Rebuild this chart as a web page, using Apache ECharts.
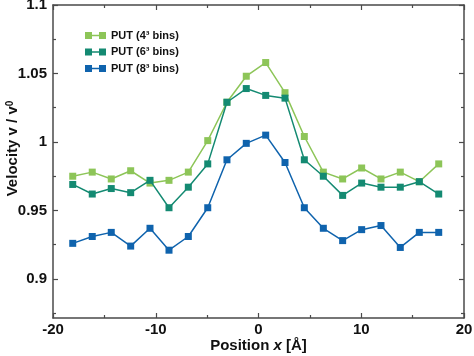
<!DOCTYPE html>
<html><head><meta charset="utf-8">
<script src="https://cdn.jsdelivr.net/npm/echarts@6/dist/echarts.min.js"></script>
<style>html,body{margin:0;padding:0;background:#fff}#c{width:474px;height:356px}</style>
</head><body><div id="c"></div>
<script>
const positions = [-18.08,-16.18,-14.33,-12.44,-10.56,-8.71,-6.83,-4.94,-3.07,-1.19,0.70,2.58,4.46,6.31,8.19,10.04,11.92,13.80,15.65,17.54];
const put4 = [0.975,0.978,0.973,0.979,0.970,0.972,0.978,1.001,1.029,1.048,1.058,1.036,1.004,0.978,0.973,0.981,0.973,0.978,0.971,0.984];
const put6 = [0.969,0.962,0.966,0.963,0.972,0.952,0.967,0.984,1.029,1.039,1.034,1.032,0.987,0.975,0.961,0.970,0.967,0.967,0.971,0.962];
const put8 = [0.926,0.931,0.934,0.924,0.937,0.921,0.931,0.952,0.987,0.999,1.005,0.985,0.952,0.937,0.928,0.936,0.939,0.923,0.934,0.934];
const seriesNames = ['PUT (4³ bins)','PUT (6³ bins)','PUT (8³ bins)'];
const colors = ['#8dc558','#148a72','#0f63ad'];
const yMajor = [0.9,0.95,1,1.05,1.1];
const yMinor = [0.875,0.925,0.975,1.025,1.075];

const axisCol = '#4a4a4a';
const txt = '#111';
const font = 'Liberation Sans, Arial, Helvetica, sans-serif';
function pts(ys){ return positions.map((x,i)=>[x,ys[i]]); }
const legendIcon = 'path://M0,0h7v7h-7z M14,0h7v7h-7z M7,2.7h7v1.6h-7z';

function yAx(pos, ticks, len, labels, extra){
  return Object.assign({
    type:'value', position:pos, min:0.8715, max:1.1,
    axisLine:{show:true, onZero:false, lineStyle:{color:axisCol, width:1.5}},
    axisTick:{show:true, inside:true, length:len, customValues:ticks, lineStyle:{color:axisCol, width:1.2}},
    axisLabel:labels ? {show:true, customValues:ticks, margin:6, color:txt, fontSize:15, fontWeight:'bold', fontFamily:font} : {show:false},
    splitLine:{show:false}
  }, extra||{});
}

const chart = echarts.init(document.getElementById('c'), null, {renderer:'canvas'});
chart.setOption({
  animation:false,
  backgroundColor:'#fff',
  grid:{left:53, right:10, top:5, bottom:38, containLabel:false, outerBoundsMode:'none'},
  legend:{
    orient:'vertical', left:80, top:25, itemGap:5.5, itemWidth:21, itemHeight:7,
    data:seriesNames.map((n,i)=>({name:n, icon:legendIcon, itemStyle:{color:colors[i]}})),
    textStyle:{color:txt, fontSize:11, fontWeight:'bold', fontFamily:font}
  },
  xAxis:[
    {type:'value', position:'bottom', min:-20, max:20, interval:10,
     name:'Position {i|x} [Å]', nameLocation:'middle', nameGap:20, nameMoveOverlap:false,
     nameTextStyle:{color:txt, fontSize:15, fontWeight:'bold', fontFamily:font,
       rich:{i:{fontStyle:'italic', fontWeight:'bold', fontSize:15, fontFamily:font, color:txt}}},
     axisLine:{show:true, onZero:false, lineStyle:{color:axisCol, width:1.5}},
     axisTick:{show:true, inside:true, length:5, lineStyle:{color:axisCol, width:1.2}},
     minorTick:{show:true, splitNumber:2, length:3, lineStyle:{color:axisCol, width:1.2}},
     axisLabel:{margin:4, color:txt, fontSize:15, fontWeight:'bold', fontFamily:font},
     splitLine:{show:false}},
    {type:'value', position:'top', min:-20, max:20, interval:10,
     axisLine:{show:true, onZero:false, lineStyle:{color:axisCol, width:1.5}},
     axisTick:{show:true, inside:true, length:5, lineStyle:{color:axisCol, width:1.2}},
     minorTick:{show:true, splitNumber:2, length:3, lineStyle:{color:axisCol, width:1.2}},
     axisLabel:{show:false}, splitLine:{show:false}}
  ],
  yAxis:[
    yAx('left', yMajor, 5, true, {
      name:'Velocity v / v{s|0}', nameLocation:'middle', nameGap:32, nameMoveOverlap:false,
      nameTextStyle:{color:txt, fontSize:15, fontWeight:'bold', fontFamily:font, padding:[0,0,0,26],
        rich:{s:{fontSize:10, fontWeight:'bold', fontFamily:font, color:txt, verticalAlign:'top', padding:[0,0,6,0]}}}
    }),
    yAx('left', yMinor, 3, false, {axisLine:{show:false, onZero:false}}),
    yAx('right', yMajor, 5, false),
    yAx('right', yMinor, 3, false, {axisLine:{show:false, onZero:false}})
  ],
  series:[put4, put6, put8].map((d,i)=>({
    name:seriesNames[i], type:'line', data:pts(d), xAxisIndex:0, yAxisIndex:0,
    symbol:'rect', symbolSize:7, showSymbol:true,
    lineStyle:{color:colors[i], width:1.5}, itemStyle:{color:colors[i]}, z:2+i
  }))
});
</script></body></html>
